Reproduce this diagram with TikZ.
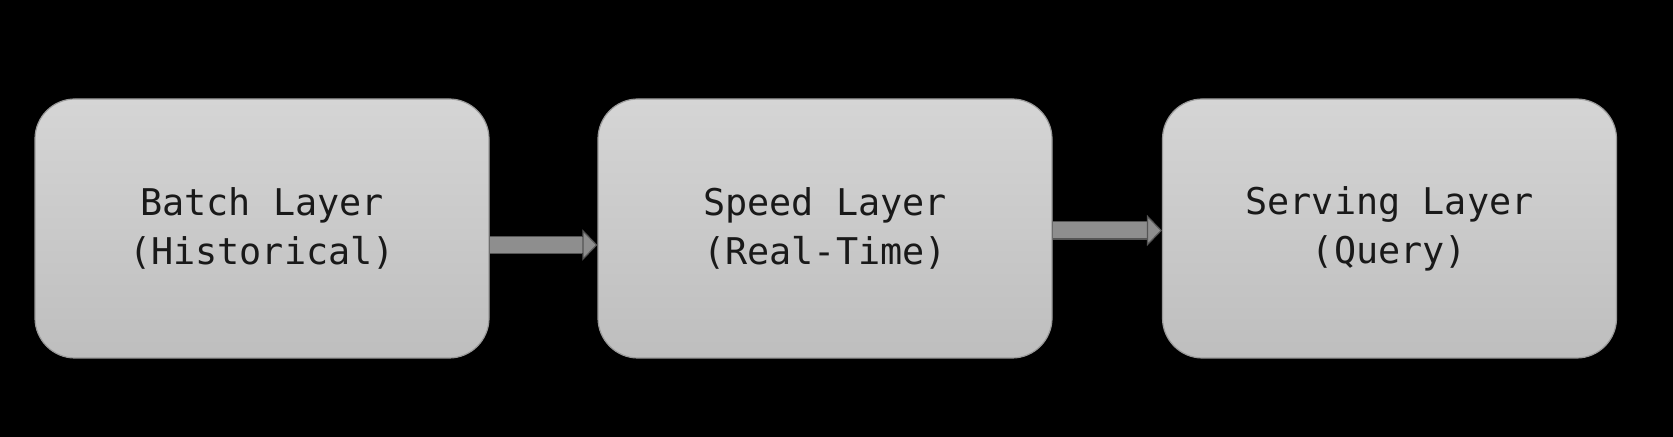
\documentclass[tikz,border=0pt]{standalone}
\usepackage{fontspec}
\newfontfamily\layerfont{DejaVu Sans Mono}
\usetikzlibrary{arrows.meta}
\definecolor{boxtop}{HTML}{D5D5D5}
\definecolor{boxbot}{HTML}{BEBEBE}
\definecolor{boxedge}{HTML}{9A9A9A}
\definecolor{flowfill}{HTML}{8E8E8E}
\definecolor{flowedge}{HTML}{555555}

\begin{document}
\begin{tikzpicture}[x=0.5pt,y=0.5pt,
  layer/.style={rectangle,rounded corners=20pt,draw=boxedge,line width=0.6pt,
    top color=boxtop,bottom color=boxbot,minimum width=227pt,minimum height=129.5pt,
    inner sep=0pt,align=center,text=black!90,
    font=\layerfont\fontsize{18.4}{24.5}\selectfont},
  flow/.style={draw=flowfill,line width=8pt,
    -{Triangle[length=7.5pt,width=15.5pt,line width=0.6pt,fill=flowfill,color=flowedge]},
    preaction={draw=flowedge,line width=9.2pt,-,shorten >=7.5pt}}]
\fill[black] (0,0) rectangle (1673,437);
\node[layer] (batch) at (262,208.5) {Batch Layer\\(Historical)};
\node[layer] (speed) at (825,208.5) {Speed Layer\\(Real-Time)};
\node[layer] (serving) at (1389.5,208.5) {Serving Layer\\(Query)};
\draw[flow] ([yshift=-8.25pt]batch.east) -- ([yshift=-8.25pt]speed.west);
\draw[flow] ([yshift=-1pt]speed.east) -- ([yshift=-1pt]serving.west);
\end{tikzpicture}
\end{document}
